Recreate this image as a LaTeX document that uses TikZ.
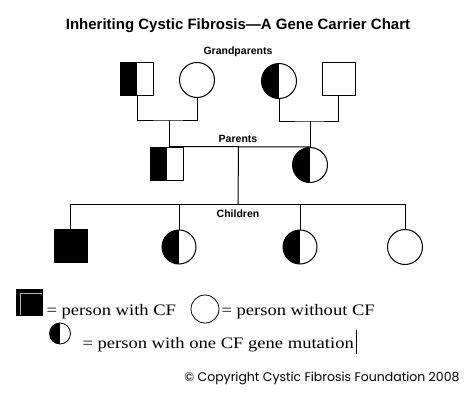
\documentclass[tikz,border=0pt]{standalone}
\usepackage{fontspec}
\usepackage{graphicx}
\setmainfont{Liberation Serif}
\setsansfont{Liberation Sans}
\newfontfamily\gothicfont{Poppins}
\usetikzlibrary{positioning, calc}

\begin{document}
\begin{tikzpicture}[x=1pt, y=-1pt, line width=1pt,
    sq/.style={draw,rectangle,minimum size=33pt,inner sep=0pt},
    circ/.style={draw,circle,minimum size=35pt,inner sep=0pt},
    carrier/.style={path picture={\fill (path picture bounding box.south west) rectangle (path picture bounding box.north);}},
    affected/.style={fill=black},
    gen/.style={font=\sffamily\bfseries\fontsize{10.5}{12}\selectfont,inner sep=0pt},
    legend/.style={anchor=base west,inner sep=0pt,font=\fontsize{16}{19}\selectfont}]
    \useasboundingbox (0,0) rectangle (474,415);
    % headings
    \node (title) at (238,26) {\sffamily\bfseries\fontsize{15}{18}\selectfont Inheriting Cystic Fibrosis—A Gene Carrier Chart};
    \node (gplab) [gen] at (238,52) {Grandparents};
    \node (parlab) [gen] at (238,139) {Parents};
    \node (kidlab) [gen] at (238,214) {Children};
    % grandparents
    \node (gpa1) [sq,carrier] at (137,78.5) {};
    \node (gpm1) [circ] at (197,80) {};
    \node (gpm2) [circ,carrier] at (279,81) {};
    \node (gpa2) [sq] at (338.5,78.5) {};
    % parents
    \node (par1) [sq,carrier] at (167,163.5) {};
    \node (par2) [circ,carrier] at (310,165) {};
    % children
    \node (kid1) [sq,affected] at (70.5,245.5) {};
    \node (kid2) [circ,minimum size=34pt,carrier] at (179,247) {};
    \node (kid3) [circ,minimum size=34pt,carrier] at (300,247) {};
    \node (kid4) [circ] at (405,247) {};
    % junctions
    \coordinate (j1) at (169,120);
    \coordinate (j2) at (310,121);
    \coordinate (j3) at ($(par1.north)!0.5!(par2.north)$);
    \coordinate (cbar) at (238,204);
    \draw (gpa1.south) |- (j1) -| (gpm1.south);
    \draw (gpm2.south) |- (j2) -| (gpa2.south);
    \draw (j1) -- (j1 |- par1.north);
    \draw (j2) -- (par2.north);
    \draw (j1 |- par1.north) -- (par2.north);
    \draw (j3) -- (cbar);
    \draw (kid1.north |- cbar) -- (kid4.north |- cbar);
    \foreach \k in {kid1,kid2,kid3,kid4}
        \draw (\k.north |- cbar) -- (\k.north);
    % legend
    \node (keycf) [sq,affected,minimum size=26pt,
        path picture={\draw[gray!60,line width=0.6pt] ([shift={(4,0)}]path picture bounding box.south west) |- ([shift={(0,4)}]path picture bounding box.north east);}]
        at (29,302) {};
    \node (keyno) [circ,minimum size=28pt,line width=0.8pt] at (205,309) {};
    \node (keyone) [circ,minimum size=21pt,carrier,line width=0.8pt] at (60,333.5) {};
    \node (txtcf) [legend] at (46,315) {\scalebox{1.16}[1]{= person with CF}};
    \node (txtno) [legend] at (221,315) {\scalebox{1.16}[1]{= person without CF}};
    \node (txtone) [legend] at (82,348) {\scalebox{1.16}[1]{= person with one CF gene mutation}};
    \draw[line width=0.8pt] ($(txtone.base east)+(2,-18)$) -- ++(0,24);
    \node (copy) [anchor=east,inner sep=0pt,font=\gothicfont\fontsize{12.5}{14}\selectfont] at (460,378) {© Copyright Cystic Fibrosis Foundation 2008};
\end{tikzpicture}
\end{document}
